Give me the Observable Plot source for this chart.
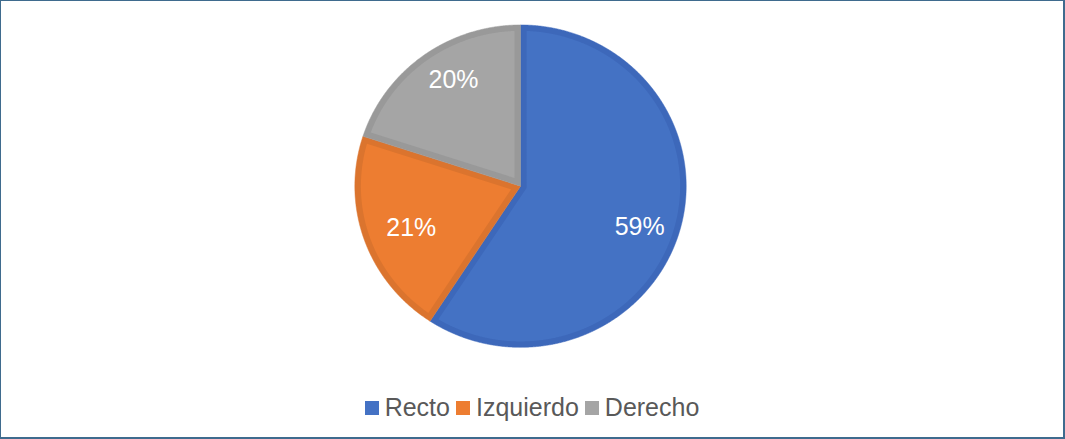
<!DOCTYPE html>
<html><head><meta charset="utf-8">
<script src="https://cdn.jsdelivr.net/npm/d3@7"></script>
<script src="https://cdn.jsdelivr.net/npm/@observablehq/plot@0.6"></script>
<style>
body{margin:0;background:#fff;font-family:"Liberation Sans",Arial,sans-serif}
#frame{position:relative;width:1065px;height:439px;box-sizing:border-box;border:1px solid #3F6B8E;border-right-width:2px;border-bottom-width:2px;background:#fff;overflow:hidden}
#chart{position:absolute;left:-1px;top:-1px}
#legend{position:absolute;left:0;right:0;top:391px;display:flex;justify-content:center;align-items:center;font-size:25px;color:#595959;line-height:30px}
.item{display:flex;align-items:center;margin-right:6px}
.item:last-child{margin-right:0}
.sw{width:14px;height:14px;margin-right:6px;margin-top:1px}
</style></head>
<body>
<div id="frame"><div id="chart"></div><div id="legend"></div></div>
<script>
const categories = ["Recto", "Izquierdo", "Derecho"];
const values = [59.2, 20.8, 20.0];
const fills = ["#4472C4", "#ED7D31", "#A5A5A5"];
const borders = ["#3D68BA", "#DB742E", "#999999"];

const total = d3.sum(values);
const arcs = d3.pie().sort(null).value(d => d)(values);

// outer wedge
function slicePoints(a) {
  const pts = [{x: 0, y: 0}];
  const n = Math.max(2, Math.ceil((a.endAngle - a.startAngle) / 0.005));
  for (let i = 0; i <= n; i++) {
    const t = a.startAngle + (a.endAngle - a.startAngle) * i / n;
    pts.push({x: Math.sin(t), y: Math.cos(t)});
  }
  pts.push({x: 0, y: 0});
  return pts;
}
// wedge inset by d (data units) to leave an inner border band
function insetPoints(a, d) {
  const half = (a.endAngle - a.startAngle) / 2;
  const m = a.startAngle + half;
  const s = d / Math.sin(half);
  const apex = {x: s * Math.sin(m), y: s * Math.cos(m)};
  const R = 1 - d;
  const delta = Math.asin(d / R);
  const t0 = a.startAngle + delta, t1 = a.endAngle - delta;
  const pts = [apex];
  const n = Math.max(2, Math.ceil((t1 - t0) / 0.005));
  for (let i = 0; i <= n; i++) {
    const t = t0 + (t1 - t0) * i / n;
    pts.push({x: R * Math.sin(t), y: R * Math.cos(t)});
  }
  pts.push(apex);
  return pts;
}

const labels = arcs.map((a, i) => {
  const m = (a.startAngle + a.endAngle) / 2;
  return {x: 0.75 * Math.sin(m), y: 0.75 * Math.cos(m), text: Math.round(values[i] / total * 100) + "%"};
});
// small per-label nudges (pixels) to mimic the original's label placement
const nudges = [[0, 6], [8, 2], [6, -8]];

const cx = 521, cy = 186, rx = 166, ry = 161.5;
const band = 6 / 164;

const chart = Plot.plot({
  width: 1065,
  height: 385,
  margin: 0,
  x: {domain: [-1, 1], range: [cx - rx, cx + rx], axis: null},
  y: {domain: [-1, 1], range: [cy + ry, cy - ry], axis: null},
  marks: [
    ...arcs.map((a, i) => Plot.line(slicePoints(a), {
      x: "x", y: "y", fill: borders[i], stroke: borders[i], strokeWidth: 0.5, curve: "linear"
    })),
    ...arcs.map((a, i) => Plot.line(insetPoints(a, band), {
      x: "x", y: "y", fill: fills[i], stroke: "none", curve: "linear"
    })),
    ...labels.map((l, i) => Plot.text([l], {
      x: "x", y: "y", text: "text", fill: "white", fontSize: 25,
      fontFamily: "Liberation Sans, Arial, sans-serif", dx: nudges[i][0], dy: nudges[i][1]
    }))
  ]
});
document.getElementById("chart").appendChild(chart);

const legend = document.getElementById("legend");
categories.forEach((c, i) => {
  const it = document.createElement("div");
  it.className = "item";
  const sw = document.createElement("div");
  sw.className = "sw";
  sw.style.background = fills[i];
  const t = document.createElement("span");
  t.textContent = c;
  it.appendChild(sw); it.appendChild(t);
  legend.appendChild(it);
});
</script>
</body></html>
